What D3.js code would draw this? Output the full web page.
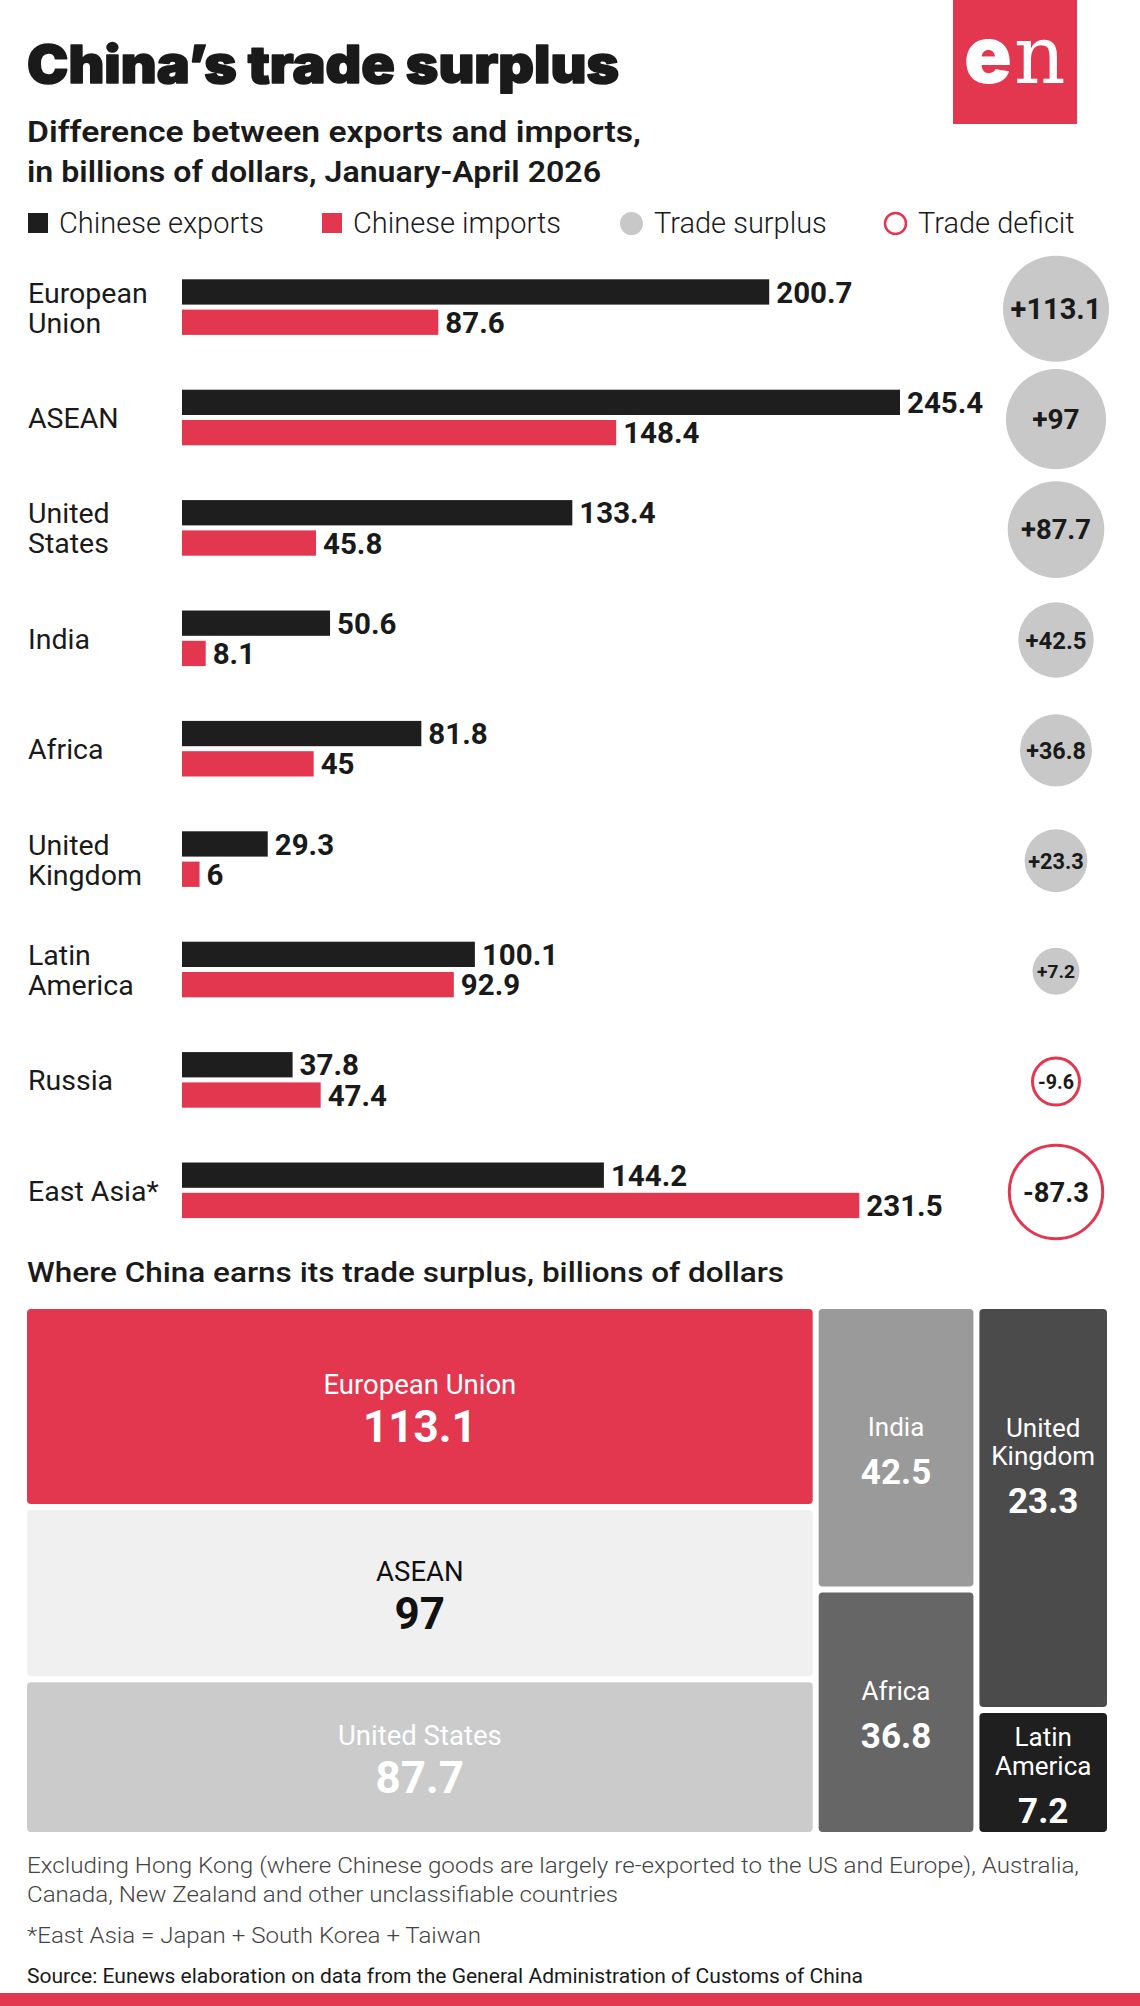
<!DOCTYPE html>
<html>
<head>
<meta charset="utf-8">
<script src="https://cdn.jsdelivr.net/npm/d3@7"></script>
<style>
  html, body { margin: 0; padding: 0; background: #ffffff; }
  svg { display: block; }
</style>
</head>
<body>
<svg id="chart" width="1140" height="2006"></svg>
<script>
// ---------------- DATA ----------------
const regions = ["European Union", "ASEAN", "United States", "India", "Africa",
                 "United Kingdom", "Latin America", "Russia", "East Asia*"];
const regionLabelLines = [["European", "Union"], ["ASEAN"], ["United", "States"], ["India"], ["Africa"],
                          ["United", "Kingdom"], ["Latin", "America"], ["Russia"], ["East Asia*"]];
const exportsValues = [200.7, 245.4, 133.4, 50.6, 81.8, 29.3, 100.1, 37.8, 144.2];
const importsValues = [87.6, 148.4, 45.8, 8.1, 45, 6, 92.9, 47.4, 231.5];
const balanceValues = [113.1, 97, 87.7, 42.5, 36.8, 23.3, 7.2, -9.6, -87.3];
const balanceLabels = ["+113.1", "+97", "+87.7", "+42.5", "+36.8", "+23.3", "+7.2", "-9.6", "-87.3"];

const surplusRegions = ["European Union", "ASEAN", "United States", "India", "Africa", "United Kingdom", "Latin America"];
const surplusValues = [113.1, 97, 87.7, 42.5, 36.8, 23.3, 7.2];
const surplusLabelLines = [["European Union"], ["ASEAN"], ["United States"], ["India"], ["Africa"],
                           ["United", "Kingdom"], ["Latin", "America"]];
const surplusValueLabels = ["113.1", "97", "87.7", "42.5", "36.8", "23.3", "7.2"];

const legendLabels = ["Chinese exports", "Chinese imports", "Trade surplus", "Trade deficit"];

const titleText = "China\u2019s trade surplus";
const subtitleLines = ["Difference between exports and imports,", "in billions of dollars, January-April 2026"];
const treemapTitle = "Where China earns its trade surplus, billions of dollars";
const noteLines = ["Excluding Hong Kong (where Chinese goods are largely re-exported to the US and Europe), Australia,",
                   "Canada, New Zealand and other unclassifiable countries",
                   "*East Asia = Japan + South Korea + Taiwan"];
const sourceText = "Source: Eunews elaboration on data from the General Administration of Customs of China";

// ---------------- LAYOUT / STYLE ----------------
const RED = "#e2374f", BLACK = "#1e1e1e", GRAY = "#c8c8c8", INK = "#1a1a1a";
const FONT = "Roboto, 'Noto Sans', sans-serif";
const treemapGroups = [[0, 1, 2], [3, 4], [5, 6]];
const treemapColumnShare = [0.729, 0.148, 0.123];
const tileFill = ["#e2374f", "#f0f0f0", "#cbcbcb", "#9a9a9a", "#666666", "#4b4b4b", "#1f1f1f"];
const tileText = ["#ffffff", "#111111", "#ffffff", "#ffffff", "#ffffff", "#ffffff", "#ffffff"];
const tileLabelShift = {"United Kingdom": -45};
const subtitleWidths = [614, 574];
const noteWidths = [1052, 591, 454];
const noteY = [1873, 1901.5, 1943];

const svg = d3.select("#chart");

// ---------------- HEADER ----------------
svg.append("text").attr("x", 27).attr("y", 83)
  .attr("font-family", "Inter, Roboto, sans-serif").attr("font-weight", 900)
  .attr("font-size", 52).attr("fill", INK)
  .attr("stroke", INK).attr("stroke-width", 1.6).attr("stroke-linejoin", "round")
  .attr("textLength", 592).attr("lengthAdjust", "spacingAndGlyphs")
  .text(titleText);

// logo
svg.append("rect").attr("x", 953).attr("y", 0).attr("width", 124).attr("height", 124).attr("fill", RED);
const logo = svg.append("text").attr("x", 964).attr("y", 83).attr("fill", "#fff");
logo.append("tspan").attr("font-family", "Inter, Roboto, sans-serif").attr("font-weight", 900)
  .attr("font-size", 79).text("e");
logo.append("tspan").attr("font-family", "'DejaVu Serif', 'Liberation Serif', serif").attr("font-weight", 400)
  .attr("font-size", 80).attr("dx", 2).text("n");

svg.selectAll("text.sub").data(subtitleLines).join("text").attr("class", "sub")
  .attr("x", 27).attr("y", (d, i) => 141.5 + i * 40)
  .attr("font-family", FONT).attr("font-weight", 600).attr("font-size", 29.5).attr("fill", INK)
  .attr("textLength", (d, i) => subtitleWidths[i]).attr("lengthAdjust", "spacingAndGlyphs")
  .text(d => d);

// legend
const legendX = [28, 322, 620, 884];
const lg = svg.append("g").attr("font-family", FONT).attr("font-size", 29).attr("font-weight", 300).attr("fill", INK);
legendLabels.forEach((lab, i) => {
  const x = legendX[i];
  if (i < 2) {
    lg.append("rect").attr("x", x).attr("y", 213).attr("width", 20).attr("height", 20).attr("fill", i === 0 ? BLACK : RED);
  } else if (i === 2) {
    lg.append("circle").attr("cx", x + 11.5).attr("cy", 223.5).attr("r", 11.5).attr("fill", GRAY);
  } else {
    lg.append("circle").attr("cx", x + 11.5).attr("cy", 223.5).attr("r", 10.5).attr("fill", "none")
      .attr("stroke", RED).attr("stroke-width", 2.5);
  }
  lg.append("text").attr("x", x + (i < 2 ? 31 : 34)).attr("y", 233).text(lab);
});

// ---------------- BAR CHART ----------------
const rowData = regions.map((r, i) => ({
  region: r, lines: regionLabelLines[i], exports: exportsValues[i], imports: importsValues[i],
  balance: balanceValues[i], balanceLabel: balanceLabels[i]
}));

const x = d3.scaleLinear().domain([0, d3.max(exportsValues.concat(importsValues))]).range([182, 900]);
const y = d3.scaleBand().domain(regions).range([279.3, 279.3 + 9 * 110.4]);
const sub = d3.scaleBand().domain(["exports", "imports"]).range([0, 55.6]).paddingInner(0.165);
const rScale = d3.scaleSqrt().domain([0, d3.max(balanceValues, v => Math.abs(v))]).range([13.5, 53]);
const circleFont = d3.scaleLinear().domain([23, 53]).range([19, 29]).clamp(true);
const circleX = 1056;

const rows = svg.append("g").selectAll("g.row").data(rowData).join("g").attr("class", "row")
  .attr("transform", d => `translate(0,${y(d.region)})`);

const pairCenter = 55.6 / 2;

// region labels
rows.each(function (d) {
  const g = d3.select(this);
  const n = d.lines.length;
  g.selectAll("text.lab").data(d.lines).join("text").attr("class", "lab")
    .attr("x", 28)
    .attr("y", (l, j) => pairCenter + 10.5 - (n - 1) * 15 + j * 30)
    .attr("font-family", FONT).attr("font-weight", 400).attr("font-size", 28.5).attr("fill", INK)
    .text(l => l);
});

["exports", "imports"].forEach(key => {
  rows.append("rect")
    .attr("x", x(0)).attr("y", sub(key))
    .attr("width", d => x(d[key]) - x(0)).attr("height", sub.bandwidth())
    .attr("fill", key === "exports" ? BLACK : RED);
  rows.append("text")
    .attr("x", d => x(d[key]) + 7).attr("y", sub(key) + sub.bandwidth() / 2).attr("dy", "0.36em")
    .attr("font-family", FONT).attr("font-weight", 700).attr("font-size", 29.5).attr("fill", INK)
    .text(d => d[key]);
});

// balance circles
rows.append("circle")
  .attr("cx", circleX).attr("cy", pairCenter + 1.7)
  .attr("r", d => d.balance >= 0 ? rScale(Math.abs(d.balance)) : rScale(Math.abs(d.balance)) - 1.5)
  .attr("fill", d => d.balance >= 0 ? GRAY : "#ffffff")
  .attr("stroke", d => d.balance >= 0 ? "none" : RED)
  .attr("stroke-width", 3);
rows.append("text")
  .attr("x", circleX).attr("y", pairCenter + 1.7).attr("dy", "0.36em")
  .attr("text-anchor", "middle")
  .attr("font-family", FONT).attr("font-weight", 700)
  .attr("font-size", d => circleFont(rScale(Math.abs(d.balance))))
  .attr("fill", INK)
  .text(d => d.balanceLabel);

// ---------------- TREEMAP ----------------
svg.append("text").attr("x", 27).attr("y", 1282)
  .attr("font-family", FONT).attr("font-weight", 500).attr("font-size", 28).attr("fill", INK)
  .attr("textLength", 757).attr("lengthAdjust", "spacingAndGlyphs")
  .text(treemapTitle);

const treeData = {
  children: treemapGroups.map(group => ({
    children: group.map(i => ({
      name: surplusRegions[i], value: surplusValues[i], lines: surplusLabelLines[i],
      valueLabel: surplusValueLabels[i], fill: tileFill[i], textFill: tileText[i]
    }))
  }))
};

function columnTile(node, x0, y0, x1, y1) {
  if (node.depth === 0) {
    let cx = x0;
    node.children.forEach((c, i) => {
      c.x0 = cx; cx += (x1 - x0) * treemapColumnShare[i]; c.x1 = cx;
      c.y0 = y0; c.y1 = y1;
    });
  } else {
    d3.treemapSlice(node, x0, y0, x1, y1);
  }
}

const root = d3.hierarchy(treeData).sum(d => d.children ? 0 : d.value);
d3.treemap().size([1080, 523]).paddingInner(6).tile(columnTile)(root);

const tm = svg.append("g").attr("transform", "translate(27,1309)");
const leaves = tm.selectAll("g.leaf").data(root.leaves()).join("g").attr("class", "leaf");
leaves.append("rect")
  .attr("x", d => d.x0).attr("y", d => d.y0)
  .attr("width", d => d.x1 - d.x0).attr("height", d => d.y1 - d.y0)
  .attr("rx", 4).attr("fill", d => d.data.fill);

const lineStep = 28.5;
leaves.each(function (d) {
  const g = d3.select(this);
  const w = d.x1 - d.x0;
  const cx = (d.x0 + d.x1) / 2;
  const cy = (d.y0 + d.y1) / 2 + 3 + (tileLabelShift[d.data.name] || 0);
  const n = d.data.lines.length;
  const blockH = (n - 1) * lineStep + 48 + 18;
  const first = cy - blockH / 2 + 18;
  g.selectAll("text.tl").data(d.data.lines).join("text").attr("class", "tl")
    .attr("x", cx).attr("y", (l, j) => first + j * lineStep)
    .attr("text-anchor", "middle").attr("font-family", FONT).attr("font-weight", 400)
    .attr("font-size", w > 300 ? 27.5 : 26).attr("fill", d.data.textFill).text(l => l);
  g.append("text")
    .attr("x", cx).attr("y", first + (n - 1) * lineStep + 48)
    .attr("text-anchor", "middle").attr("font-family", FONT).attr("font-weight", 700)
    .attr("font-size", w > 300 ? 44 : 35).attr("fill", d.data.textFill).text(d.data.valueLabel);
});

// ---------------- NOTES ----------------
svg.selectAll("text.note").data(noteLines).join("text").attr("class", "note")
  .attr("x", 27).attr("y", (d, i) => noteY[i])
  .attr("font-family", FONT).attr("font-weight", 300).attr("font-size", 22.5).attr("fill", "#444")
  .attr("textLength", (d, i) => noteWidths[i]).attr("lengthAdjust", "spacingAndGlyphs")
  .text(d => d);
svg.append("text").attr("x", 27).attr("y", 1982.5)
  .attr("font-family", FONT).attr("font-weight", 400).attr("font-size", 20.5).attr("fill", INK)
  .attr("textLength", 836).attr("lengthAdjust", "spacingAndGlyphs")
  .text(sourceText);

svg.append("rect").attr("x", 0).attr("y", 1993).attr("width", 1140).attr("height", 13).attr("fill", RED);
</script>
</body>
</html>
